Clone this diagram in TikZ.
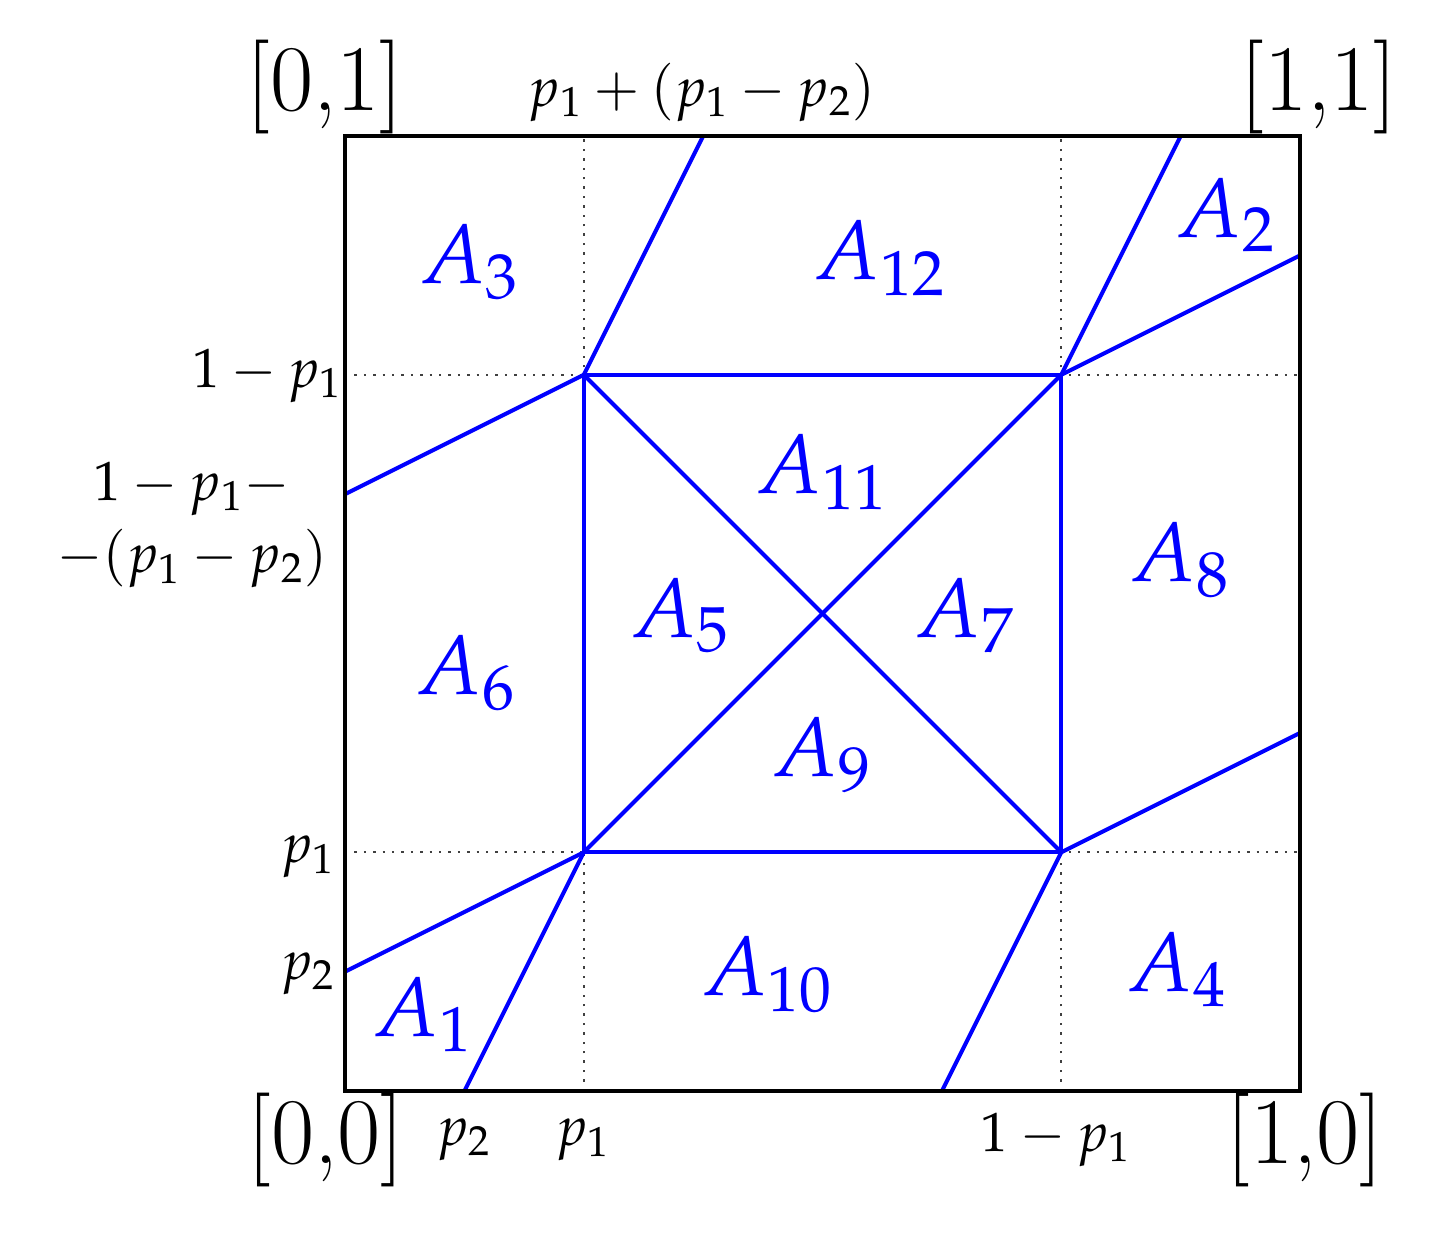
\documentclass[tikz,border=0pt]{standalone}
\usepackage{mathpazo}
\begin{document}
\begin{tikzpicture}[x=10cm,y=10cm,
  bl/.style={draw=blue, line width=1.2pt, line join=round},
  dots/.style={draw=black!75, line width=0.7pt, dash pattern=on 0.7pt off 2.1pt},
  frame/.style={draw=black, line width=1.3pt},
  region/.style={text=blue, font=\fontsize{25}{30}\selectfont, inner sep=0pt},
  axlab/.style={font=\fontsize{16.5}{18.6}\selectfont, inner sep=0pt},
  corner/.style={font=\fontsize{28}{33}\selectfont, inner sep=0pt}]
\useasboundingbox (-0.3613,-0.1487) rectangle (1.1476,1.1424);
% corners of the unit square
\coordinate (O) at (0,0);
\coordinate (E) at (1,1);
% inner square
\coordinate (P) at (0.25,0.25);
\coordinate (Q) at (0.75,0.25);
\coordinate (R) at (0.75,0.75);
\coordinate (S) at (0.25,0.75);
% boundary points
\coordinate (b1) at (0.125,0);
\coordinate (b2) at (0.625,0);
\coordinate (l1) at (0,0.125);
\coordinate (l2) at (0,0.625);
\coordinate (t1) at (0.375,1);
\coordinate (t2) at (0.875,1);
\coordinate (r1) at (1,0.375);
\coordinate (r2) at (1,0.875);
% dotted guides
\coordinate (vb1) at (0.25,0);  \coordinate (vt1) at (0.25,1);
\coordinate (vb2) at (0.75,0);  \coordinate (vt2) at (0.75,1);
\coordinate (hl1) at (0,0.25);  \coordinate (hr1) at (1,0.25);
\coordinate (hl2) at (0,0.75);  \coordinate (hr2) at (1,0.75);
\draw[dots] (vb1) -- (vt1);
\draw[dots] (vb2) -- (vt2);
\draw[dots] (hl1) -- (hr1);
\draw[dots] (hl2) -- (hr2);
% blue partition
\draw[bl] (P) -- (Q) -- (R) -- (S) -- cycle;
\draw[bl] (P) -- (R);
\draw[bl] (Q) -- (S);
\draw[bl] (P) -- (b1);
\draw[bl] (P) -- (l1);
\draw[bl] (S) -- (l2);
\draw[bl] (S) -- (t1);
\draw[bl] (R) -- (t2);
\draw[bl] (R) -- (r2);
\draw[bl] (Q) -- (r1);
\draw[bl] (Q) -- (b2);
% frame
\draw[frame] (O) rectangle (E);
% region labels
\node[region] (A1) at (0.081,0.080) {$A_1$};
\node[region] (A2) at (0.922,0.917) {$A_2$};
\node[region] (A3) at (0.130,0.868) {$A_3$};
\node[region] (A4) at (0.871,0.127) {$A_4$};
\node[region] (A5) at (0.351,0.498) {$A_5$};
\node[region] (A6) at (0.126,0.438) {$A_6$};
\node[region] (A7) at (0.649,0.498) {$A_7$};
\node[region] (A8) at (0.874,0.556) {$A_8$};
\node[region] (A9) at (0.499,0.352) {$A_9$};
\node[region] (A10) at (0.442,0.122) {$A_{10}$};
\node[region] (A11) at (0.499,0.648) {$A_{11}$};
\node[region] (A12) at (0.560,0.872) {$A_{12}$};
% corner labels
\node[corner] (c01) at (-0.0209,1.0512) {[0,1]};
\node[corner] (c11) at (1.0199,1.0512) {[1,1]};
\node[corner] (c00) at (-0.0199,-0.0513) {[0,0]};
\node[corner] (c10) at (1.0052,-0.0513) {[1,0]};
% axis labels
\node[axlab] (top) at (0.3738,1.046) {$p_1+(p_1-p_2)$};
\node[axlab] (bp2) at (0.1246,-0.0513) {$p_2$};
\node[axlab] (bp1) at (0.2492,-0.0513) {$p_1$};
\node[axlab] (bq1) at (0.7445,-0.0513) {$1-p_1$};
\node[axlab, anchor=east] (lq1) at (-0.002,0.7487) {$1-p_1$};
\node[axlab, anchor=east] (lp1) at (-0.0094,0.245) {$p_1$};
\node[axlab, anchor=east] (lp2) at (-0.0094,0.1225) {$p_2$};
\node[axlab, align=center] (lm) at (-0.1602,0.5927) {$1-p_1-$\\[3pt]$-(p_1-p_2)$};
\end{tikzpicture}
\end{document}
